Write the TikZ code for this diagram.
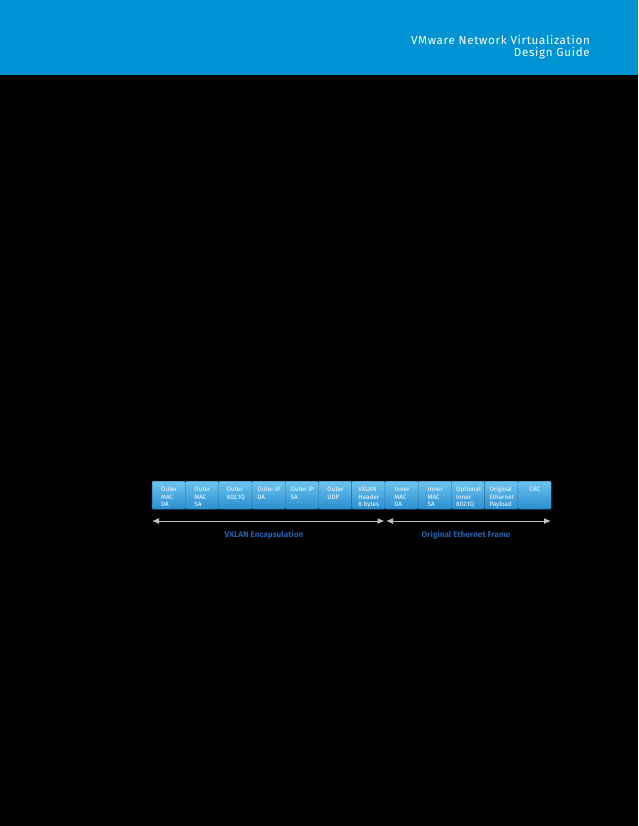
\documentclass[tikz,border=0pt]{standalone}
\usepackage{fontspec}
\setmainfont{Fira Sans}
\usetikzlibrary{arrows.meta}
\definecolor{bandblue}{HTML}{0093D4}
\definecolor{boxtop}{HTML}{6CC3EE}
\definecolor{boxbot}{HTML}{2A8ED0}
\definecolor{lblblue}{HTML}{2360A8}
\definecolor{arrgray}{HTML}{BEBEBE}
\begin{document}
\begin{tikzpicture}[x=1pt,y=-1pt,
  field/.style={draw=boxbot!80!black,line width=0.3pt,rounded corners=1pt,top color=boxtop,bottom color=boxbot,minimum width=33.25pt,minimum height=28pt,inner sep=0pt,anchor=north west},
  fieldtxt/.style={anchor=north,inner sep=0pt,text=white,font=\fontsize{6.3}{7.8}\selectfont,align=left},
  span/.style={draw=arrgray,line width=1pt,{Latex[length=7pt,width=6pt]}-{Latex[length=7pt,width=6pt]}},
  spanlbl/.style={text=lblblue,font=\fontsize{8.2}{9}\selectfont\bfseries}]
\useasboundingbox (0,0) rectangle (638,826);
\fill[black] (0,0) rectangle (638,826);
\fill[bandblue] (0,0) rectangle (638,75);
\node[anchor=base east,align=right,text=white,inner sep=0pt,font=\fontsize{11.6}{12}\selectfont\addfontfeature{LetterSpace=6}] (title) at (590,57) {VMware Network Virtualization\\Design Guide};
\foreach \i in {0,...,11}{
  \node[field] (f\i) at ({152+33.25*\i},481) {};
}
\foreach \i/\t in {0/{Outer\\MAC\\DA},1/{Outer\\MAC\\SA},2/{Outer\\802.1Q},3/{Outer IP\\DA},4/{Outer IP\\SA},5/{Outer\\UDP},6/{VXLAN\\Header\\8 bytes},7/{Inner\\MAC\\DA},8/{Inner\\MAC\\SA},9/{Optional\\Inner\\802.1Q},10/{Original\\Ethernet\\Payload},11/{CRC}}{
  \node[fieldtxt] (t\i) at ([xshift=0.5pt,yshift=-4pt]f\i.north) {\rule{0pt}{6pt}\t};
}
\coordinate (a0) at (152,521);
\coordinate (a1) at (384.5,521);
\coordinate (a2) at (386,521);
\coordinate (a3) at (551,521);
\draw[span] (a0) -- (a1);
\draw[span] (a2) -- (a3);
\node[spanlbl] (l1) at (264,535) {VXLAN Encapsulation};
\node[spanlbl] (l2) at (466,535) {Original Ethernet Frame};
\end{tikzpicture}
\end{document}
